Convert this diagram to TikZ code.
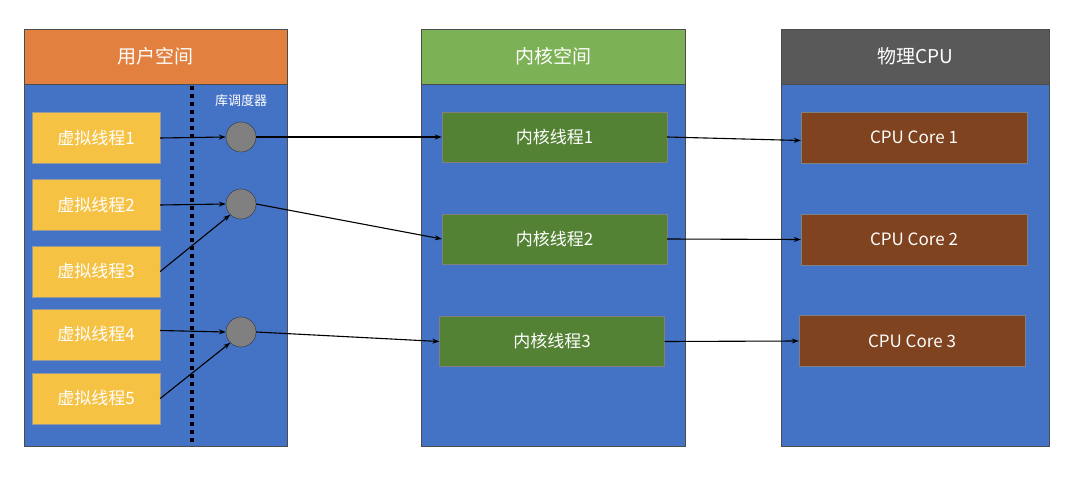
\documentclass[tikz,border=0pt]{standalone}
\usepackage{fontspec}
\setmainfont{Noto Sans CJK SC}
\usetikzlibrary{arrows.meta}
\definecolor{bodyblue}{HTML}{4472C4}
\definecolor{hdorange}{HTML}{E2803F}
\definecolor{hdgreen}{HTML}{7DB155}
\definecolor{hdgray}{HTML}{595959}
\definecolor{vyellow}{HTML}{F5C244}
\definecolor{kgreen}{HTML}{548235}
\definecolor{cbrown}{HTML}{7F4320}
\begin{document}
\begin{tikzpicture}[x=1pt,y=-1pt,
  panel/.style={draw=black!70,line width=0.6pt,fill=bodyblue},
  hd/.style={draw=black!70,line width=0.6pt,text=white,font=\fontsize{19}{22}\selectfont},
  vbox/.style={draw=black!40,fill=vyellow,text=white,minimum width=128pt,minimum height=51pt,font=\fontsize{17}{20}\selectfont,inner sep=0pt},
  kbox/.style={draw=black!50,fill=kgreen,text=white,minimum width=225pt,minimum height=50pt,font=\fontsize{17}{20}\selectfont,inner sep=0pt},
  cbox/.style={draw=black!50,fill=cbrown,text=white,minimum width=226pt,minimum height=51pt,font=\fontsize{17}{20}\selectfont,inner sep=0pt},
  sched/.style={circle,draw=black!80,fill=black!50,minimum size=30pt,inner sep=0pt},
  arr/.style={-{Stealth[length=7pt,width=5pt]},line width=1.1pt,black}]
\useasboundingbox[fill=white] (0,0) rectangle (1080,484);
% panels
\draw[panel] (24,84) rectangle (287,446);
\draw[panel] (421,84) rectangle (685,446);
\draw[panel] (781,84) rectangle (1049,446);
\draw[hd,fill=hdorange] (24,29) rectangle node (h1) {用户空间} (287,84);
\draw[hd,fill=hdgreen] (421,29) rectangle node (h2) {内核空间} (685,84);
\draw[hd,fill=hdgray] (781,29) rectangle node (h3) {物理CPU} (1049,84);
% dotted line
\draw[line width=4pt,dash pattern=on 4pt off 4pt] (192,86) -- (192,446);
\node[text=white,font=\fontsize{13}{15}\selectfont] (lbl) at (241,101) {库调度器};
% yellow boxes
\node[vbox] (v1) at (96,138) {虚拟线程1};
\node[vbox] (v2) at (96,205) {虚拟线程2};
\node[vbox] (v3) at (96,271.5) {虚拟线程3};
\node[vbox] (v4) at (96,334.5) {虚拟线程4};
\node[vbox] (v5) at (96,398.5) {虚拟线程5};
% schedulers
\node[sched] (s1) at (241,137) {};
\node[sched] (s2) at (241,204) {};
\node[sched] (s3) at (241,332) {};
% kernel
\node[kbox] (k1) at (554.5,137) {内核线程1};
\node[kbox] (k2) at (554.5,239) {内核线程2};
\node[kbox] (k3) at (552,341.5) {内核线程3};
% cpu
\node[cbox] (c1) at (914,137.5) {CPU Core 1};
\node[cbox] (c2) at (914,239.5) {CPU Core 2};
\node[cbox] (c3) at (912,341) {CPU Core 3};
% arrows
\draw[arr] (v1.east) -- (s1.west);
\draw[arr] (v2.east) -- (s2.west);
\draw[arr] (v3.east) -- (s2.south west);
\draw[arr] ([yshift=4pt]v4.east) -- (s3.west);
\draw[arr] (v5.east) -- (s3.south west);
\draw[arr] (s1.east) -- (k1.west);
\draw[arr] (s2.east) -- (k2.west);
\draw[arr] (s3.east) -- (k3.west);
\draw[arr] (k1.east) -- ([yshift=-3pt]c1.west);
\draw[arr] (k2.east) -- (c2.west);
\draw[arr] (k3.east) -- (c3.west);
\end{tikzpicture}
\end{document}
